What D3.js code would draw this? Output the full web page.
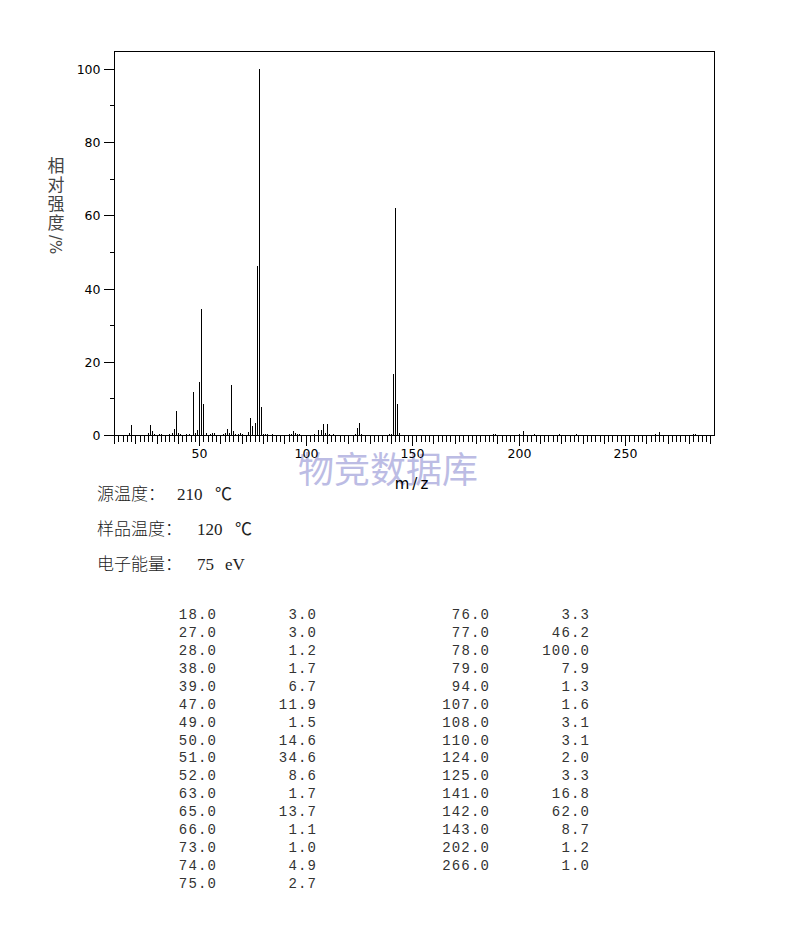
<!DOCTYPE html>
<html><head><meta charset="utf-8">
<script src="https://cdn.jsdelivr.net/npm/d3@7"></script>
<style>body{margin:0;background:#fff} svg{display:block}</style>
</head><body>
<svg id="c" width="794" height="935"></svg>
<script>
// ---- data ----
const tableMz  = [18,27,28,38,39,47,49,50,51,52,63,65,66,73,74,75,76,77,78,79,94,107,108,110,124,125,141,142,143,202,266];
const tableInt = [3.0,3.0,1.2,1.7,6.7,11.9,1.5,14.6,34.6,8.6,1.7,13.7,1.1,1.0,4.9,2.7,3.3,46.2,100.0,7.9,1.3,1.6,3.1,3.1,2.0,3.3,16.8,62.0,8.7,1.2,1.0];
const minorMz  = [17,26,29,31,32,36,37,40,41,44,45,48,53,55,56,57,61,62,64,67,68,69,70,80,81,82,84,92,93,95,96,97,104,106,109,111,113,123,126,139,140,144,188,189,200,207,219,227,264,282,283];
const minorInt = [0.7,0.7,0.4,0.3,0.3,0.4,0.8,0.6,0.3,0.4,0.4,0.8,0.6,0.4,0.6,0.8,0.4,0.8,0.6,0.3,0.5,0.8,0.3,0.5,0.5,0.3,0.3,0.3,0.3,0.6,0.5,0.3,0.3,1.4,0.6,0.3,0.3,0.3,0.3,0.3,0.5,0.7,0.5,0.3,0.3,0.3,0.3,0.3,0.3,0.5,0.3];
const xTickLabels = [50,100,150,200,250];
const yTickLabels = [0,20,40,60,80,100];
const yMinorTicks = [10,30,50,70,90];
const infoLabels = ["源温度：","样品温度：","电子能量："];
const infoValues = ["210","120","75"];
const infoUnits  = ["℃","℃","eV"];

// ---- drawing ----
const svg = d3.select("#c");
const x = d3.scaleLinear().domain([10, 292.2]).range([114, 715]);
const y = d3.scaleLinear().domain([0, 105]).range([435.5, 51]);
const px = v => Math.round(x(v)) + 0.5;

// watermark
svg.append("text").attr("x", 298).attr("y", 483)
  .attr("font-family", "'Noto Sans CJK SC'").attr("font-size", 36)
  .attr("fill", "#bcbce4").text("物竞数据库");

// frame
svg.append("rect").attr("x", 114.5).attr("y", 51.5).attr("width", 600).attr("height", 384)
  .attr("fill", "none").attr("stroke", "#000").attr("stroke-width", 1).attr("shape-rendering", "crispEdges");

// peaks
const peaks = tableMz.map((m, i) => ({m, v: tableInt[i]}))
  .concat(minorMz.map((m, i) => ({m, v: minorInt[i]})));
svg.append("g").selectAll("line").data(peaks).join("line")
  .attr("x1", d => px(d.m)).attr("x2", d => px(d.m))
  .attr("y1", y(0)).attr("y2", d => y(d.v))
  .attr("stroke", "#000").attr("stroke-width", 1).attr("shape-rendering", "crispEdges");

// x axis
const xAxis = d3.axisBottom(x).tickValues(d3.range(10, 291, 2)).tickSize(6)
  .tickFormat(d => xTickLabels.includes(d) ? d : "");
const gx = svg.append("g").attr("transform", "translate(0,435.5)").call(xAxis);
gx.select(".domain").remove();
gx.selectAll(".tick").attr("transform", d => `translate(${px(d)},0)`);
gx.selectAll(".tick line").attr("stroke", "#000").attr("shape-rendering", "crispEdges")
  .attr("y2", d => d % 50 === 0 ? 10 : (d % 10 === 0 ? 8 : 6));
gx.selectAll(".tick text").attr("y", 14).attr("dy", "0.71em")
  .attr("font-family", "'DejaVu Sans'").attr("font-size", 12.5).attr("fill", "#000");

// y axis
const yAxis = d3.axisLeft(y).tickValues(yTickLabels).tickSize(11).tickPadding(3);
const gy = svg.append("g").attr("transform", "translate(114.5,0)").call(yAxis);
gy.select(".domain").remove();
gy.selectAll(".tick").attr("transform", d => `translate(0,${Math.floor(y(d)) + 0.5})`);
gy.selectAll(".tick line").attr("stroke", "#000").attr("shape-rendering", "crispEdges");
gy.selectAll(".tick text").attr("font-family", "'DejaVu Sans'").attr("font-size", 12.5).attr("fill", "#000");
const gy2 = svg.append("g").attr("transform", "translate(114.5,0)")
  .call(d3.axisLeft(y).tickValues(yMinorTicks).tickSize(5).tickFormat(""));
gy2.select(".domain").remove();
gy2.selectAll(".tick").attr("transform", d => `translate(0,${Math.floor(y(d)) + 0.5})`);
gy2.selectAll(".tick line").attr("stroke", "#000").attr("shape-rendering", "crispEdges");

// y label (vertical)
const yl = ["相","对","强","度"];
svg.append("g").selectAll("text").data(yl).join("text")
  .attr("x", 56).attr("y", (d, i) => 172 + i * 19).attr("text-anchor", "middle")
  .attr("font-family", "'Noto Sans CJK SC'").attr("font-size", 17).attr("fill", "#444").text(d => d);
svg.append("text").attr("transform", "translate(50,235) rotate(90)")
  .attr("font-family", "'DejaVu Sans'").attr("font-size", 15).attr("fill", "#444").text("/%");

// x label
svg.append("text").attr("x", 413).attr("y", 489).attr("text-anchor", "middle")
  .attr("font-family", "'DejaVu Sans'").attr("font-size", 15).attr("letter-spacing", 3)
  .attr("fill", "#000").text("m/z");

// info lines
const valX = [177, 197, 197], unitX = [215, 235, 225];
infoLabels.forEach((lab, i) => {
  const t = svg.append("text").attr("x", 97).attr("y", 500 + i * 35)
    .attr("font-size", 17).attr("fill", "#222")
    .attr("font-family", "'Liberation Serif','Noto Sans CJK SC'");
  t.append("tspan").attr("font-family", "'Noto Sans CJK SC'").attr("font-weight", 300).text(lab);
  t.append("tspan").attr("x", valX[i]).text(infoValues[i]);
  t.append("tspan").attr("x", unitX[i]).text(infoUnits[i]);
});

// table
const colEdges = [[216, 316], [489, 589]];
const split = 16;
const fmt = d3.format(".1f");
[tableMz.slice(0, split), tableMz.slice(split)].forEach((ms, c) => {
  const ints = c === 0 ? tableInt.slice(0, split) : tableInt.slice(split);
  const g = svg.append("g").attr("font-family", "'Liberation Mono'").attr("font-size", 14)
    .attr("letter-spacing", 1.2).attr("fill", "#333").attr("text-anchor", "end");
  g.selectAll("text.m").data(ms).join("text").attr("class", "m")
    .attr("x", colEdges[c][0] + 1.2).attr("y", (d, i) => 619 + i * 17.93).text(d => fmt(d));
  g.selectAll("text.v").data(ints).join("text").attr("class", "v")
    .attr("x", colEdges[c][1] + 1.2).attr("y", (d, i) => 619 + i * 17.93).text(d => fmt(d));
});
</script>
</body></html>
